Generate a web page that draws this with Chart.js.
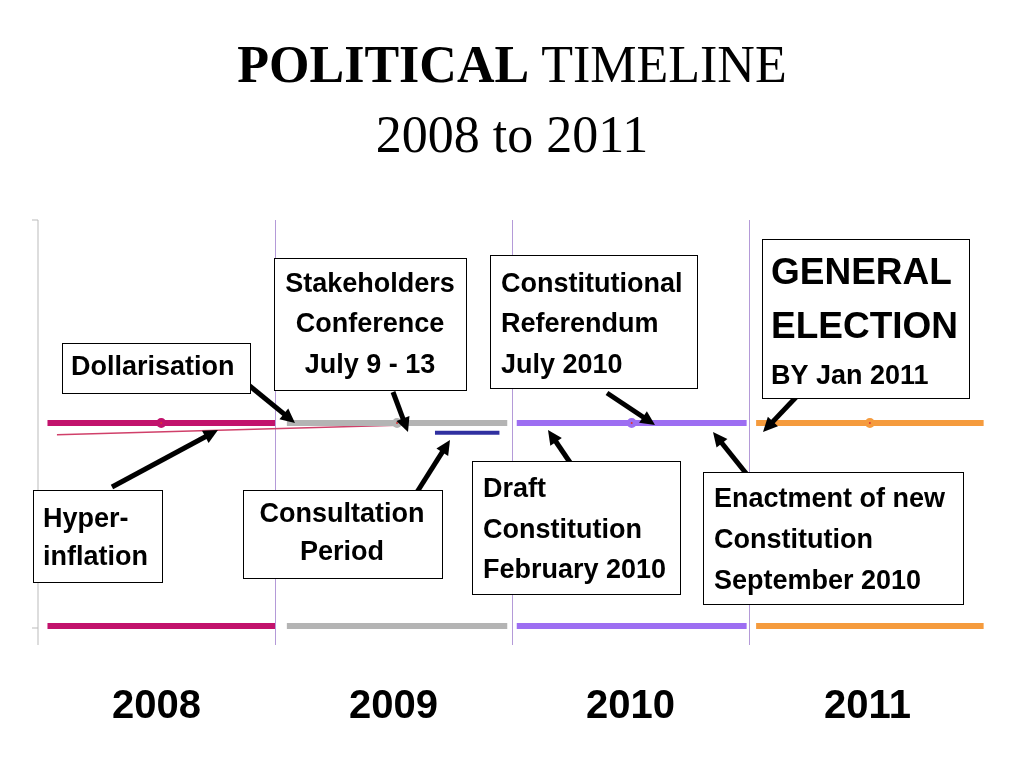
<!DOCTYPE html>
<html><head><meta charset="utf-8">
<script src="https://cdn.jsdelivr.net/npm/chart.js@4"></script>
<style>
body{margin:0;background:#fff;width:1024px;height:768px;overflow:hidden;position:relative}
#t{position:absolute;top:30px;left:0;width:1024px;text-align:center;font-family:"Liberation Serif",serif;font-size:52px;line-height:70px;color:#000}
canvas{position:absolute;left:0;top:0}
</style></head><body>
<div id="t"><b>POLITICAL</b> TIMELINE<br>2008 to 2011</div>
<canvas id="c" width="1024" height="768"></canvas>
<script>
const years = ['2008','2009','2010','2011'];
const segStart = [0.04, 1.05, 2.02, 3.03];
const segEnd = [1.0, 1.98, 2.99, 3.99];
const colors = ['#c2126c','#b4b4b4','#9d6ef2','#f59b3d'];
const timelineLevel = 0.5;
const baseLevel = 0.0;
const consultStart = 1.675, consultEnd = 1.947, consultLevel = 0.476;
const trendX = [0.08, 1.97], trendY = [0.471, 0.502];

const datasets = [];
years.forEach((y,i)=>{
  const mid=(segStart[i]+segEnd[i])/2;
  datasets.push({label:y,data:[{x:segStart[i],y:timelineLevel},{x:mid,y:timelineLevel},{x:segEnd[i],y:timelineLevel}],
    borderColor:colors[i],backgroundColor:'#d33',borderWidth:6,pointRadius:[0,2,0]});
  datasets.push({label:y+' base',data:[{x:segStart[i],y:baseLevel},{x:segEnd[i],y:baseLevel}],
    borderColor:colors[i],borderWidth:6,pointRadius:0});
});
datasets.push({label:'consult',data:[{x:consultStart,y:consultLevel},{x:consultEnd,y:consultLevel}],borderColor:'#3030a0',borderWidth:4,pointRadius:0});
datasets.push({label:'trend',data:[{x:trendX[0],y:trendY[0]},{x:trendX[1],y:trendY[1]}],borderColor:'#d0406a',borderWidth:1.5,pointRadius:0});

const boxes=[
 {r:[62,343,188,50],align:'left',tx:71,lines:[['Dollarisation',368,27]]},
 {r:[274,258,192,132],align:'center',tx:370,lines:[['Stakeholders',285,27],['Conference',325,27],['July 9 - 13',366,27]]},
 {r:[490,255,207,133],align:'left',tx:501,lines:[['Constitutional',285,27],['Referendum',325,27],['July 2010',366,27]]},
 {r:[762,239,207,159],align:'left',tx:771,lines:[['GENERAL',274,37],['ELECTION',328,37],['BY Jan 2011',377,27]]},
 {r:[33,490,129,92],align:'left',tx:43,lines:[['Hyper-',520,27],['inflation',558,27]]},
 {r:[243,490,199,88],align:'center',tx:342,lines:[['Consultation',515,27],['Period',553,27]]},
 {r:[472,461,208,133],align:'left',tx:483,lines:[['Draft',490,27],['Constitution',531,27],['February 2010',571,27]]},
 {r:[703,472,260,132],align:'left',tx:714,lines:[['Enactment of new',500,27],['Constitution',541,27],['September 2010',582,27]]}
];
const arrows=[[240,378,295,423],[112,487,218,430],[393,392,408,432],[412,500,450,440],[607,393,655,425],[590,492,548,430],[800,393,763,432],[753,482,713,432]];

const deco={id:'deco',afterDraw(ch){
  const c=ch.ctx,a=ch.chartArea;c.save();
  c.strokeStyle='#bbb';c.lineWidth=1;c.beginPath();c.moveTo(a.left,a.top);c.lineTo(a.left,a.bottom+15);
  c.moveTo(a.left-6,a.top);c.lineTo(a.left,a.top);c.moveTo(a.left-6,a.bottom-2);c.lineTo(a.left,a.bottom-2);c.stroke();
  c.strokeStyle='#000';c.fillStyle='#000';c.lineWidth=5;
  arrows.forEach(([x1,y1,x2,y2])=>{
    const ang=Math.atan2(y2-y1,x2-x1),h=16;
    c.beginPath();c.moveTo(x1,y1);c.lineTo(x2-Math.cos(ang)*h*0.7,y2-Math.sin(ang)*h*0.7);c.stroke();
    c.beginPath();c.moveTo(x2,y2);
    c.lineTo(x2-h*Math.cos(ang-0.45),y2-h*Math.sin(ang-0.45));
    c.lineTo(x2-h*Math.cos(ang+0.45),y2-h*Math.sin(ang+0.45));c.closePath();c.fill();
  });
  boxes.forEach(b=>{
    c.fillStyle='#fff';c.fillRect(...b.r);c.lineWidth=1;c.strokeStyle='#000';c.strokeRect(b.r[0]+.5,b.r[1]+.5,b.r[2],b.r[3]);
    c.fillStyle='#000';c.textAlign=b.align;c.textBaseline='middle';
    b.lines.forEach(([t,y,s])=>{c.font='bold '+s+'px "Liberation Sans", Arial';c.fillText(t,b.tx,y);});
  });
  c.restore();
}};

new Chart(document.getElementById('c'),{type:'line',data:{datasets},
 options:{responsive:false,animation:false,layout:{padding:{top:220,left:15,right:24,bottom:0}},
  plugins:{legend:{display:false},tooltip:{enabled:false}},
  scales:{
   x:{type:'linear',min:0,max:4,border:{display:false},
     afterBuildTicks(s){s.ticks=[0,0.5,1,1.5,2,2.5,3,3.5,4].map(v=>({value:v}));},
     afterFit(s){s.height=138;},
     grid:{drawOnChartArea:true,tickLength:15,color:c=>[1,2,3].includes(c.tick.value)?'#b49ad8':'rgba(0,0,0,0)'},
     ticks:{padding:38,maxRotation:0,autoSkip:false,color:'#000',font:{family:'"Liberation Sans", Arial',size:40,weight:'bold'},
       callback:v=>{const i=Math.floor(v);return (v-i===0.5)?years[i]:'';}}},
   y:{display:false,min:-0.01,max:1}
  }},plugins:[deco]});
</script></body></html>
